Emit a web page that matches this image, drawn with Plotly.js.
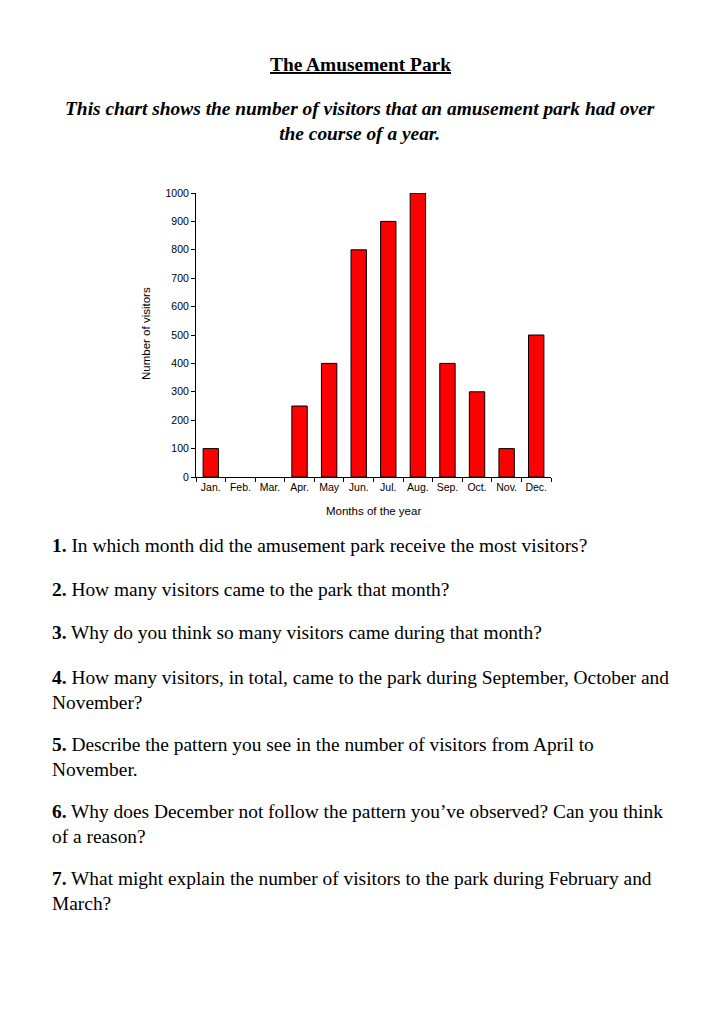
<!DOCTYPE html>
<html>
<head>
<meta charset="utf-8">
<script src="https://cdn.plot.ly/plotly-3.0.1.min.js"></script>
<style>html,body{margin:0;padding:0;background:#fff;}</style>
</head>
<body>
<div id="chart" style="width:719px;height:1017px;"></div>
<script>
const months = ["Jan.","Feb.","Mar.","Apr.","May","Jun.","Jul.","Aug.","Sep.","Oct.","Nov.","Dec."];
const visitors = [100,0,0,250,400,800,900,1000,400,300,100,500];
const yTicks = [0,100,200,300,400,500,600,700,800,900,1000];
const titleText = "The Amusement Park";
const subtitleText = "This chart shows the number of visitors that an amusement park had over<br>the course of a year.";
const xTitle = "Months of the year";
const yTitle = "Number of visitors";
const questions = [
  ["1.", "In which month did the amusement park receive the most visitors?"],
  ["2.", "How many visitors came to the park that month?"],
  ["3.", "Why do you think so many visitors came during that month?"],
  ["4.", "How many visitors, in total, came to the park during September, October and<br>November?"],
  ["5.", "Describe the pattern you see in the number of visitors from April to<br>November."],
  ["6.", "Why does December not follow the pattern you\u2019ve observed? Can you think<br>of a reason?"],
  ["7.", "What might explain the number of visitors to the park during February and<br>March?"]
];

const W = 719, H = 1017;
const L = 196, R = 551, T = 193, B = 477;
const px = x => (x - L) / (R - L);
const py = y => (B - y) / (B - T);
const qY = [545, 589, 632, 677, 744, 811, 878];

const serif = "Liberation Serif, Times New Roman, serif";
const sans = "Liberation Sans, Arial, Helvetica, sans-serif";

const annotations = [
  {text: "<b><u>" + titleText + "</u></b>", x: px(360), y: py(65), xref: "paper", yref: "paper",
   showarrow: false, xanchor: "center", yanchor: "middle", font: {family: serif, size: 19.4, color: "#000"}},
  {text: "<b><i>" + subtitleText + "</i></b>", x: px(360), y: py(96), xref: "paper", yref: "paper",
   showarrow: false, xanchor: "center", yanchor: "top", align: "center", font: {family: serif, size: 19.4, color: "#000"}},
  {text: yTitle, x: px(146), y: py(334), xref: "paper", yref: "paper", textangle: -90,
   showarrow: false, xanchor: "center", yanchor: "middle", font: {family: sans, size: 11.5, color: "#000"}},
  {text: xTitle, x: px(373), y: py(511), xref: "paper", yref: "paper",
   showarrow: false, xanchor: "center", yanchor: "middle", font: {family: sans, size: 11.5, color: "#000"}}
];
questions.forEach((q, i) => {
  annotations.push({text: "<b>" + q[0] + "</b> " + q[1], x: px(50), y: py(qY[i] - 12), xref: "paper", yref: "paper",
    showarrow: false, xanchor: "left", yanchor: "top", align: "left",
    font: {family: serif, size: 19.4, color: "#000"}});
});

const data = [{
  type: "bar", x: months, y: visitors, width: 0.52,
  marker: {color: "#ff0000", line: {color: "#000", width: visitors.map(v => v > 0 ? 1 : 0)}},
  hoverinfo: "none"
}];

const layout = {
  width: W, height: H,
  margin: {l: L, r: W - R, t: T, b: H - B, pad: 0},
  paper_bgcolor: "#fff", plot_bgcolor: "#fff",
  showlegend: false,
  font: {family: sans, size: 11, color: "#000"},
  xaxis: {type: "category", categoryorder: "array", categoryarray: months,
    range: [-0.5, 11.5], showgrid: false, zeroline: false,
    showline: true, linecolor: "#000", linewidth: 1,
    ticks: "outside", tickson: "boundaries", ticklen: 4, tickcolor: "#000", tickwidth: 1,
    tickangle: 0, tickfont: {family: sans, size: 10.5, color: "#000"}, fixedrange: true},
  yaxis: {range: [0, 1000], tickvals: yTicks, ticktext: yTicks.map(String), showgrid: false, zeroline: false,
    showline: true, linecolor: "#000", linewidth: 1,
    ticks: "outside", ticklen: 4, tickcolor: "#000", tickwidth: 1,
    tickfont: {family: sans, size: 10.5, color: "#000"}, fixedrange: true},
  annotations: annotations
};

Plotly.newPlot("chart", data, layout, {staticPlot: true, displayModeBar: false});
</script>
</body>
</html>
